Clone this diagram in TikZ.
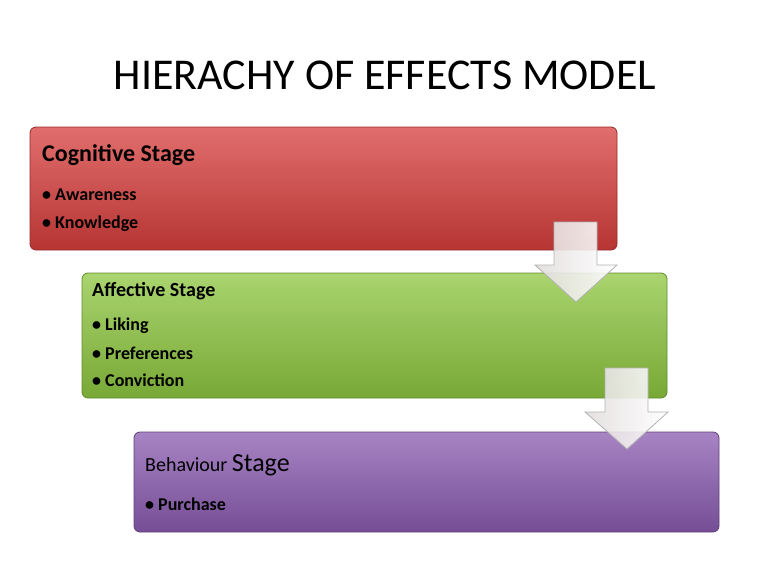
\documentclass[tikz,border=0pt]{standalone}
\usepackage{fontspec}
\setmainfont{Carlito}
\begin{document}
\begin{tikzpicture}[x=1pt,y=-1pt,
  stagebox/.style={rounded corners=6pt, draw=#1!70!black, line width=0.8pt, top color=#1!75!white, bottom color=#1!85!black},
  downarrow/.style={draw=gray!60, line width=0.8pt, left color=red!8!gray!25, right color=white, fill opacity=0.9},
  txt/.style={anchor=west, inner sep=0pt, text=black}]
\definecolor{cred}{HTML}{D63E3C}
\definecolor{cgreen}{HTML}{8DC63F}
\definecolor{cpurple}{HTML}{8A5BB0}
\useasboundingbox (0,0) rectangle (768,576);
\node[inner sep=0pt] (title) at (385,75) {\fontsize{44}{48}\selectfont HIERACHY OF EFFECTS MODEL};
\path[stagebox=cred] (30,127) rectangle (617,250);
\path[stagebox=cgreen] (82,273) rectangle (667,398);
\path[stagebox=cpurple] (134,432) rectangle (719,532);
\node[txt] (c1) at (42,155) {\fontsize{24}{26}\selectfont\bfseries Cognitive Stage};
\node[txt] (c2) at (42,195) {\fontsize{18}{20}\selectfont\bfseries • Awareness};
\node[txt] (c3) at (42,224) {\fontsize{18}{20}\selectfont\bfseries • Knowledge};
\node[txt] (a1) at (92,291) {\fontsize{20}{22}\selectfont\bfseries Affective Stage};
\node[txt] (a2) at (92,326) {\fontsize{18}{20}\selectfont\bfseries • Liking};
\node[txt] (a3) at (92,353) {\fontsize{18}{20}\selectfont\bfseries • Preferences};
\node[txt] (a4) at (92,380) {\fontsize{18}{20}\selectfont\bfseries • Conviction};
\node[txt] (b1) at (145,465) {\fontsize{20}{22}\selectfont Behaviour \fontsize{26}{28}\selectfont Stage};
\node[txt] (b2) at (145,504) {\fontsize{18}{20}\selectfont\bfseries • Purchase};
\path[downarrow] (554,222) -- (597,222) -- (597,265) -- (617,265) -- (576,302) -- (535,265) -- (554,265) -- cycle;
\path[downarrow] (605,368) -- (648,368) -- (648,412) -- (668,412) -- (627,449) -- (585,412) -- (605,412) -- cycle;
\end{tikzpicture}
\end{document}
